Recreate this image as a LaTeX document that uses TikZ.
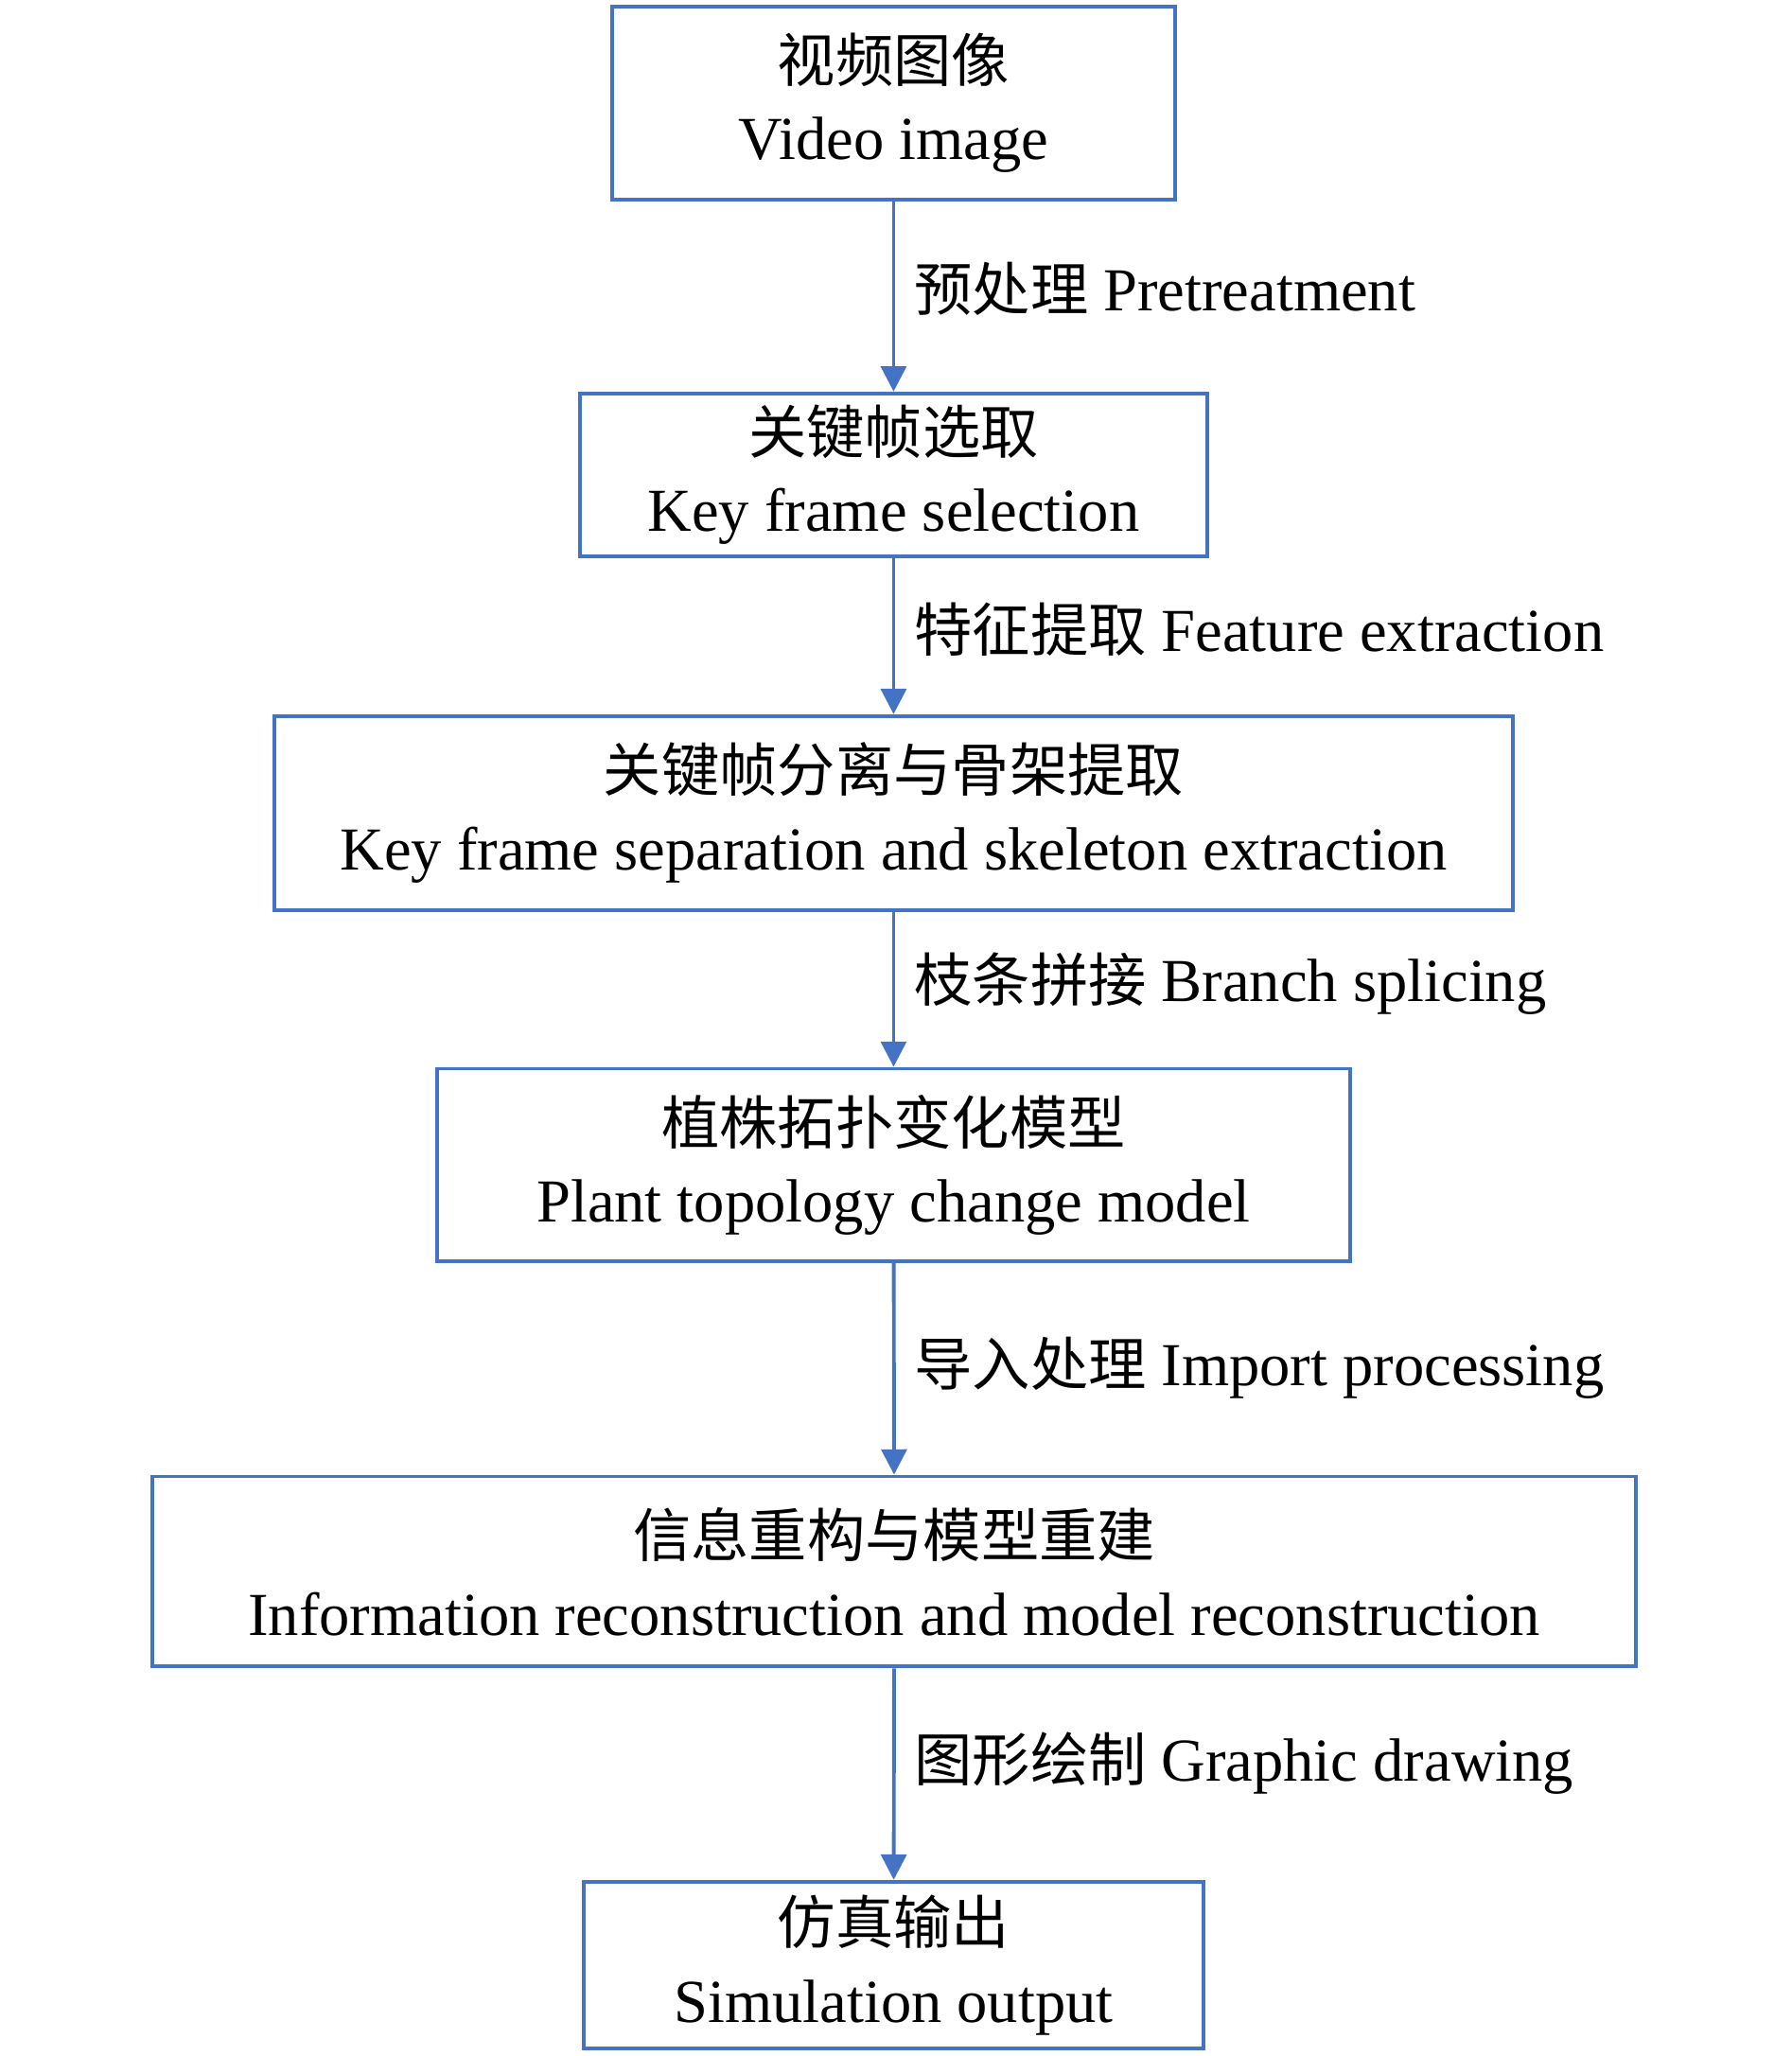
\documentclass[tikz,border=0pt]{standalone}
\usepackage{fontspec}
\setmainfont{Liberation Serif}
\newfontfamily\cjk{Noto Sans CJK SC}[Scale=0.95]
\usetikzlibrary{arrows.meta}
\definecolor{flowblue}{RGB}{68,114,196}

\begin{document}
\begin{tikzpicture}[x=0.02cm,y=-0.02cm,
	box/.style={draw=flowblue,line width=1.6pt,align=center,inner sep=0pt,
		font=\fontsize{26.5}{34}\selectfont},
	lab/.style={anchor=west,inner sep=0pt,font=\fontsize{26.5}{30}\selectfont},
	flow/.style={draw=flowblue,line width=1.6pt,-{Triangle[length=11pt,width=11pt]}}]
	\useasboundingbox (0,0) rectangle (1366,1568);
	\node[box,minimum width=8.58cm,minimum height=2.94cm] (video) at (681.5,78.5) {{\cjk 视频图像}\\Video image};
	\node[box,minimum width=9.58cm,minimum height=2.48cm] (key) at (681.5,362) {{\cjk 关键帧选取}\\Key frame selection};
	\node[box,minimum width=18.9cm,minimum height=2.96cm] (sep) at (681.5,620) {{\cjk 关键帧分离与骨架提取}\\Key frame separation and skeleton extraction};
	\node[box,minimum width=13.94cm,minimum height=2.94cm] (plant) at (681.5,888.5) {{\cjk 植株拓扑变化模型}\\Plant topology change model};
	\node[box,minimum width=22.64cm,minimum height=2.9cm] (info) at (682,1198.5) {{\cjk 信息重构与模型重建}\\Information reconstruction and model reconstruction};
	\node[box,minimum width=9.46cm,minimum height=2.54cm] (sim) at (681.5,1498.5) {{\cjk 仿真输出}\\Simulation output};

	\draw[flow] (video) -- (key);
	\draw[flow] (key) -- (sep);
	\draw[flow] (sep) -- (plant);
	\draw[flow] (plant) -- (info);
	\draw[flow] (info) -- (sim);

	\node[lab] (l1) at (697,220) {{\cjk 预处理} Pretreatment};
	\node[lab] (l2) at (697,480) {{\cjk 特征提取} Feature extraction};
	\node[lab] (l3) at (697,750) {{\cjk 枝条拼接} Branch splicing};
	\node[lab] (l4) at (697,1043) {{\cjk 导入处理} Import processing};
	\node[lab] (l5) at (697,1345) {{\cjk 图形绘制} Graphic drawing};
\end{tikzpicture}
\end{document}
